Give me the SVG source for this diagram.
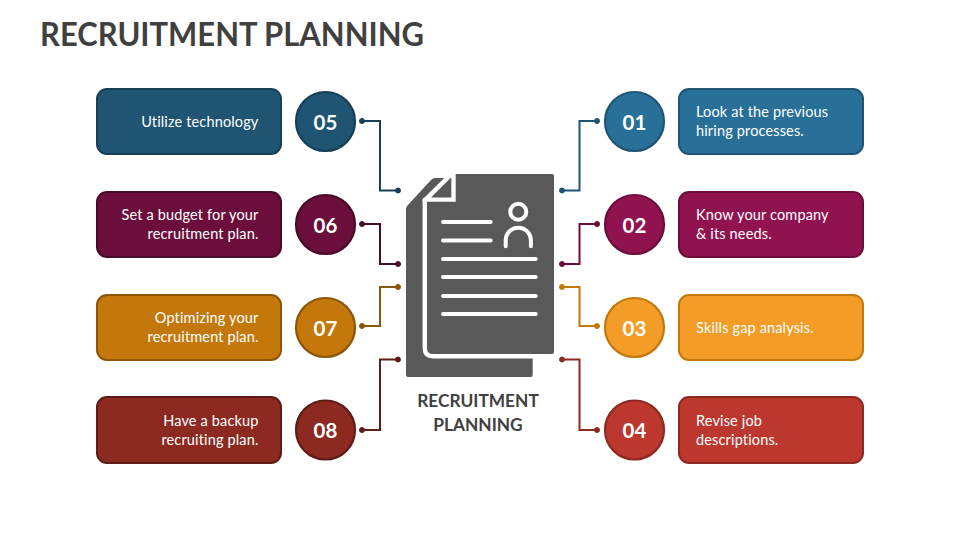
<svg xmlns="http://www.w3.org/2000/svg" width="960" height="540" viewBox="0 0 960 540">
<style>
text{font-family:"Lato","Open Sans","Liberation Sans",sans-serif}
.t{font-size:14.5px;fill:#fff;letter-spacing:.15px}
.e{text-anchor:end}
.n{font-size:20.5px;font-weight:700;fill:#fff;text-anchor:middle}
.b{stroke-width:2}
.c{stroke-width:2.2}
.l{fill:none;stroke-width:2}
.w{fill:none;stroke:#fff;stroke-width:4;stroke-linecap:round;stroke-linejoin:round}
.blue1{fill:#297099;stroke:#1f5572}.blue2{fill:#1f5572;stroke:#173f55}
.mag1{fill:#90124f;stroke:#6c0e3b}.mag2{fill:#6c0e3b;stroke:#480a27}
.or1{fill:#f39c27;stroke:#c4780b}.or2{fill:#c4780b;stroke:#8c5508}
.red1{fill:#bc372e;stroke:#8c2a22}.red2{fill:#8c2a22;stroke:#5e1c17}
</style>
<rect width="960" height="540" fill="#fff"/>
<text id="title" x="40" y="46" font-size="32" font-weight="700" fill="#404040" textLength="384" lengthAdjust="spacingAndGlyphs">RECRUITMENT PLANNING</text>
<g id="connectors">
<g fill="#173f55" stroke="#173f55"><path class="l" d="M362 121H380V190.500H398"/><circle cx="362" cy="121" r="2.500"/><circle cx="398" cy="190.500" r="2.500"/></g>
<g fill="#480a27" stroke="#480a27"><path class="l" d="M362 224H380V264H398"/><circle cx="362" cy="224" r="2.500"/><circle cx="398" cy="264" r="2.500"/></g>
<g fill="#8c5508" stroke="#8c5508"><path class="l" d="M362 326H380V287H398"/><circle cx="362" cy="326" r="2.500"/><circle cx="398" cy="287" r="2.500"/></g>
<g fill="#5e1c17" stroke="#5e1c17"><path class="l" d="M362 430H380V359.500H398"/><circle cx="362" cy="430" r="2.500"/><circle cx="398" cy="359.500" r="2.500"/></g>
<g fill="#1f5572" stroke="#1f5572"><path class="l" d="M597 121H579.500V190.500H562"/><circle cx="597" cy="121" r="2.500"/><circle cx="562" cy="190.500" r="2.500"/></g>
<g fill="#6c0e3b" stroke="#6c0e3b"><path class="l" d="M597 224H579.500V264H562"/><circle cx="597" cy="224" r="2.500"/><circle cx="562" cy="264" r="2.500"/></g>
<g fill="#c4780b" stroke="#c4780b"><path class="l" d="M597 326H579.500V287H562"/><circle cx="597" cy="326" r="2.500"/><circle cx="562" cy="287" r="2.500"/></g>
<g fill="#8c2a22" stroke="#8c2a22"><path class="l" d="M597 430H579.500V359.500H562"/><circle cx="597" cy="430" r="2.500"/><circle cx="562" cy="359.500" r="2.500"/></g>
</g>
<g id="doc">
<path fill="#595959" d="M455 174H552Q554 174 554 176V352Q554 354 552 354V358H532.700V375Q532.700 377 530.700 377H408Q406 377 406 375V209Q406 207 407.500 205.500L431 180Q433 178 435 178H455Z"/>
<path fill="#fff" d="M455.700 174V201.700H422.500V199.400L448.300 174Z"/>
<path fill="#595959" d="M451.300 177.300V197.500H431Z"/>
<path class="w" style="stroke-width:4.400" d="M424.800 200V348Q424.800 356.200 433 356.200H554"/>
<path class="w" d="M443 222H490.700M443 240.500H490.700M443 259H535.700M443 277H535.700M443 296H535.700M443 314H535.700"/>
<circle class="w" cx="518.300" cy="211.700" r="8"/>
<path class="w" d="M505.700 246.300V240.300A12.600 12.600 0 0 1 530.900 240.300V246.300"/>
<text x="478" y="406.500" font-size="17.300" font-weight="700" fill="#404040" text-anchor="middle">RECRUITMENT</text>
<text x="478" y="430.500" font-size="17.300" font-weight="700" fill="#404040" text-anchor="middle">PLANNING</text>
</g>
<g id="node05"><rect class="b blue2" x="97" y="89" width="184" height="65" rx="10"/><text class="t e" x="258.500" y="127">Utilize technology</text><circle class="c blue2" cx="325.500" cy="121.500" r="29.500"/><text class="n" x="325.500" y="129.500">05</text></g>
<g id="node06"><rect class="b mag2" x="97" y="192" width="184" height="65" rx="10"/><text class="t e" x="258.500" y="220">Set a budget for your</text><text class="t e" x="258.500" y="239">recruitment plan.</text><circle class="c mag2" cx="325.500" cy="224.500" r="29.500"/><text class="n" x="325.500" y="232.500">06</text></g>
<g id="node07"><rect class="b or2" x="97" y="295" width="184" height="65" rx="10"/><text class="t e" x="258.500" y="323">Optimizing your</text><text class="t e" x="258.500" y="342">recruitment plan.</text><circle class="c or2" cx="325.500" cy="327.500" r="29.500"/><text class="n" x="325.500" y="335.500">07</text></g>
<g id="node08"><rect class="b red2" x="97" y="397" width="184" height="66" rx="10"/><text class="t e" x="258.500" y="426">Have a backup</text><text class="t e" x="258.500" y="445">recruiting plan.</text><circle class="c red2" cx="325.500" cy="430" r="29.500"/><text class="n" x="325.500" y="438">08</text></g>
<g id="node01"><rect class="b blue1" x="679" y="89" width="184" height="65" rx="10"/><text class="t" x="696" y="117">Look at the previous</text><text class="t" x="696" y="136">hiring processes.</text><circle class="c blue1" cx="634.500" cy="121.500" r="29.500"/><text class="n" x="634.500" y="129.500">01</text></g>
<g id="node02"><rect class="b mag1" x="679" y="192" width="184" height="65" rx="10"/><text class="t" x="696" y="220">Know your company</text><text class="t" x="696" y="239">&amp; its needs.</text><circle class="c mag1" cx="634.500" cy="224.500" r="29.500"/><text class="n" x="634.500" y="232.500">02</text></g>
<g id="node03"><rect class="b or1" x="679" y="295" width="184" height="65" rx="10"/><text class="t" x="696" y="333">Skills gap analysis.</text><circle class="c or1" cx="634.500" cy="327.500" r="29.500"/><text class="n" x="634.500" y="335.500">03</text></g>
<g id="node04"><rect class="b red1" x="679" y="397" width="184" height="66" rx="10"/><text class="t" x="696" y="426">Revise job</text><text class="t" x="696" y="445">descriptions.</text><circle class="c red1" cx="634.500" cy="430" r="29.500"/><text class="n" x="634.500" y="438">04</text></g>
</svg>
